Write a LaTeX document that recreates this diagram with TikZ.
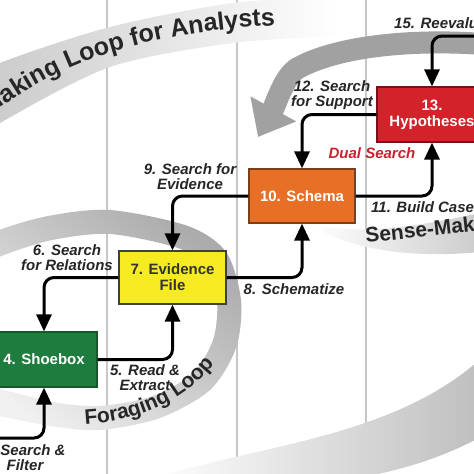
\documentclass[tikz,border=0pt]{standalone}
\usepackage{fontspec}
\setmainfont{Liberation Sans}
\usetikzlibrary{arrows.meta,decorations.text}
\definecolor{boxgreen}{RGB}{30,125,62}
\definecolor{boxyellow}{RGB}{246,234,32}
\definecolor{boxorange}{RGB}{232,112,38}
\definecolor{boxred}{RGB}{210,34,42}
\definecolor{dualred}{RGB}{200,34,48}
\begin{document}
\begin{tikzpicture}[x=1pt,y=-1pt,
  gridline/.style={draw=black!22, line width=2pt},
  arr/.style={draw=black, line width=3pt, rounded corners=10pt, -{Triangle[width=15pt,length=17pt]}},
  box/.style={rectangle, line width=1.2pt, inner sep=0pt, align=center,
    font=\fontsize{15}{16}\selectfont\bfseries},
  lbl/.style={inner sep=0pt, align=center, text=black!85,
    font=\fontsize{15}{15}\selectfont\bfseries\itshape},
  bigtxt/.style={inner sep=0pt, text=black!85, font=\fontsize{21}{23}\selectfont\bfseries}]
\useasboundingbox (0,0) rectangle (474,474);
\clip (0,0) rectangle (474,474);
\fill[white] (0,0) rectangle (474,474);
% column lines
\draw[gridline] (107,-5) -- (107,480);
\draw[gridline] (237,-5) -- (237,480);
\draw[gridline] (366,-5) -- (366,480);
% top analysts band
\shade[left color=black!21, right color=white]
  plot[smooth] coordinates {(-20,80) (0,63) (110,27) (233,3) (340,-4)}
  -- plot[smooth] coordinates {(340,36) (233,43) (110,67) (0,123) (-20,140)} -- cycle;
% bottom outer band
\shade[left color=white, right color=black!26]
  (150,480) .. controls (250,445) and (400,440) .. (490,350)
  -- (490,432) .. controls (440,460) and (400,470) .. (350,480) -- cycle;
% sense-making band near schema
\shade[left color=white, right color=black!20]
  (310,224) .. controls (360,236) and (420,226) .. (480,213)
  -- (480,252) .. controls (420,258) and (350,252) .. (310,224) -- cycle;
% foraging loop band
\shade[top color=black!33, bottom color=black!6, shading angle=-40]
  plot[smooth] coordinates {(-29,245) (-4,231) (48,216) (110,210) (188,226) (226,252) (241,300) (236,348) (210,390) (160,418) (100,430) (50,426) (0,416) (-27,411)}
  -- plot[smooth] coordinates {(-23,386) (4,390) (52,402) (98,406) (150,397) (192,374) (213,340) (217,302) (206,267) (178,248) (110,234) (52,240) (4,255) (-21,267)} -- cycle;
% dark gray arrow (sense-making loop)
\draw[line width=22pt, black!37, -{Triangle[width=50pt,length=32pt]}]
  (495,45) .. controls (420,38) and (340,45) .. (298,68)
  .. controls (284,76) and (276,104) .. (258,137);
% loop texts
\path[decorate, decoration={text along path, text align=left,
  text={|\fontsize{25}{27}\selectfont\bfseries\color{black!85}|Making Loop for Analysts}}]
  (-11,117) .. controls (60,60) and (150,28) .. (310,24);
\path[decorate, decoration={text along path, text align=left,
  text={|\fontsize{21}{23}\selectfont\bfseries\color{black!85}|Foraging Loop}}]
  (85,424) .. controls (140,421) and (197,400) .. (230,340);
\node[bigtxt, rotate=6, anchor=base west] (sensetxt) at (366,243) {Sense-Making};
% boxes
\node[box, fill=boxgreen, draw=boxgreen!70!black, text=white, minimum width=106pt, minimum height=55pt] (shoebox) at (44,359.5) {4. Shoebox};
\node[box, fill=boxyellow, draw=black!75, text=black!80, minimum width=107pt, minimum height=53pt] (evidence) at (172.5,277.5) {7. Evidence\\File};
\node[box, fill=boxorange, draw=boxorange!55!black, text=white, minimum width=106pt, minimum height=54pt] (schema) at (302,196) {10. Schema};
\node[box, fill=boxred, draw=boxred!55!black, text=white, minimum width=110pt, minimum height=55pt] (hyp) at (432,114.5) {13.\\Hypotheses};
% free ends
\coordinate (in3) at (-5,438);
\coordinate (in15) at (490,36);
% connectors
\draw[arr] (in3) -| (shoebox.south);
\draw[arr] (shoebox.east) -| (evidence.south);
\draw[arr] (evidence.west) -| (shoebox.north);
\draw[arr] (evidence.east) -| (schema.south);
\draw[arr] (schema.west) -| (evidence.north);
\draw[arr] (schema.east) -| (hyp.south);
\draw[arr] (hyp.west) -| (schema.north);
\draw[arr] (in15) -| (hyp.north);
% labels
\node[lbl] (l3) at (33,458) {Search \&\\Filter\hspace*{16pt}};
\node[lbl] (l5) at (145,378) {5. Read \&\\Extract};
\node[lbl] (l6) at (67,258) {6. Search\\for Relations};
\node[lbl] (l8) at (294,289) {8. Schematize};
\node[lbl] (l9) at (190,177) {9. Search for\\Evidence};
\node[lbl, anchor=west] (l11) at (371,207) {11. Build Case};
\node[lbl] (l12) at (332,95) {12. Search\\for Support};
\node[lbl, anchor=west] (l15) at (394,23) {15. Reevaluate};
\node[lbl, text=dualred] (dual) at (372,153) {Dual Search};
\end{tikzpicture}
\end{document}
